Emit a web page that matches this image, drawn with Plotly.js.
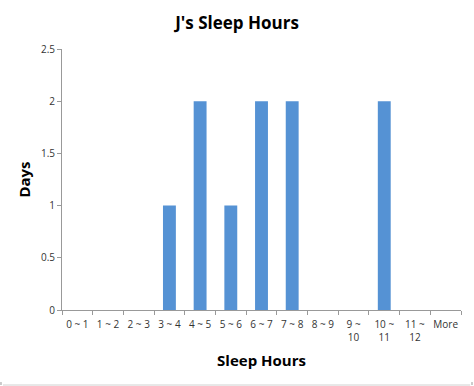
<!DOCTYPE html>
<html><head><meta charset="utf-8">
<script src="https://cdn.plot.ly/plotly-3.0.1.min.js"></script>
<style>html,body{margin:0;padding:0;background:#fff;}#chart{width:474px;height:386px;}</style>
</head><body><div id="chart"></div>
<script>
const categories = ["0 ~ 1","1 ~ 2","2 ~ 3","3 ~ 4","4 ~ 5","5 ~ 6","6 ~ 7","7 ~ 8","8 ~ 9","9 ~<br>10","10 ~<br>11","11 ~<br>12","More"];
const days = [0,0,0,1,2,1,2,2,0,0,2,0,0];
const yTicks = [0,0.5,1,1.5,2,2.5];
const yTickLabels = ["0","0.5","1","1.5","2","2.5"];

Plotly.newPlot("chart", [{
  type: "bar", x: categories, y: days,
  marker: {color: "#5592d4"}
}], {
  width: 474, height: 386,
  margin: {l: 62, r: 13, t: 49, b: 76},
  paper_bgcolor: "#fff", plot_bgcolor: "#fff",
  bargap: 0.58,
  showlegend: false,
  font: {family: "Open Sans, Liberation Sans, sans-serif", color: "#333"},
  title: {text: "J's Sleep Hours", font: {size: 17, color: "#000", family: "Open Sans, sans-serif", weight: "bold"}, x: 0.5, xanchor: "center", y: 0.94, yanchor: "middle"},
  xaxis: {
    type: "category",
    tickson: "boundaries", ticks: "outside", ticklen: 4, tickcolor: "#999",
    tickangle: 0, ticklabelstandoff: 5,
    showline: true, linecolor: "#999", linewidth: 1,
    showgrid: false, zeroline: false,
    tickfont: {size: 10, color: "#333"},
    title: {text: "Sleep Hours", font: {size: 15, color: "#000", weight: "bold"}, standoff: 12},
    fixedrange: true
  },
  yaxis: {
    range: [0, 2.5], tickvals: yTicks, ticktext: yTickLabels,
    ticks: "outside", ticklen: 4, tickcolor: "#999",
    showline: true, linecolor: "#999", linewidth: 1,
    showgrid: false, zeroline: false,
    tickfont: {size: 10, color: "#333"},
    title: {text: "Days", font: {size: 15, color: "#000", weight: "bold"}, standoff: 6}
  },
  shapes: [
    {type: "line", xref: "paper", yref: "paper", x0: -0.148, x1: 1.023, y0: -0.2874, y1: -0.2874, line: {color: "#d0d0d0", width: 1}},
    {type: "line", xref: "paper", yref: "paper", x0: -0.1529, x1: -0.1529, y0: -0.2874, y1: -0.276, line: {color: "#999", width: 1}},
    {type: "line", xref: "paper", yref: "paper", x0: 1.0276, x1: 1.0276, y0: -0.2874, y1: -0.276, line: {color: "#999", width: 1}}
  ]
}, {staticPlot: true, displayModeBar: false});
</script></body></html>
